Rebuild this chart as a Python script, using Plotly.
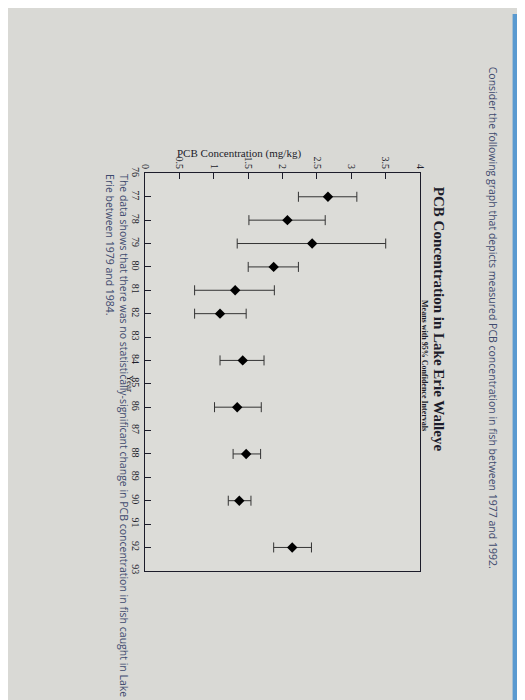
import plotly.graph_objects as go

years = [77, 78, 79, 80, 81, 82, 84, 86, 88, 90, 92]
means = [2.66, 2.07, 2.43, 1.87, 1.31, 1.09, 1.42, 1.34, 1.47, 1.37, 2.14]
lower = [2.23, 1.51, 1.34, 1.50, 0.72, 0.72, 1.09, 1.01, 1.28, 1.21, 1.87]
upper = [3.08, 2.62, 3.50, 2.23, 1.88, 1.47, 1.73, 1.69, 1.68, 1.54, 2.42]

x_ticks = [0, 0.5, 1, 1.5, 2, 2.5, 3, 3.5, 4]
x_labels = ["0", "0.5", "1", "1.5", "2", "2.5", "3", "3.5", "4"]
year_ticks = list(range(76, 94))

plus = [u - m for u, m in zip(upper, means)]
minus = [m - l for m, l in zip(means, lower)]

serif = "Liberation Serif"
ink = "#1c1c2a"

fig = go.Figure()
fig.add_trace(go.Scatter(
    x=means, y=years, mode="markers",
    marker=dict(symbol="diamond", size=8, color="black"),
    error_x=dict(type="data", symmetric=False, array=plus, arrayminus=minus,
                 color="#333", thickness=1, width=5),
    showlegend=False,
))

fig.update_layout(
    width=525, height=700,
    margin=dict(l=0, r=0, t=0, b=0),
    paper_bgcolor="#d9d9d5", plot_bgcolor="#dcdcd8",
    xaxis=dict(domain=[0.257, 0.792], range=[0, 4], side="top",
               tickvals=x_ticks, ticktext=x_labels, tickangle=90,
               ticks="inside", ticklen=6, tickcolor=ink,
               showline=True, linecolor=ink, mirror=True, showgrid=False,
               zeroline=False, tickfont=dict(family=serif, size=10, color=ink)),
    yaxis=dict(domain=[0.193, 0.769], range=[93, 76],
               tickvals=year_ticks, tickangle=90,
               ticks="inside", ticklen=6, tickcolor=ink,
               showline=True, linecolor=ink, mirror=True, showgrid=False,
               zeroline=False, tickfont=dict(family=serif, size=10, color=ink)),
)

fig.add_shape(type="rect", xref="paper", yref="paper", x0=0.972, x1=1, y0=0, y1=1,
              fillcolor="#5a9ad0", line_width=0)

fig.add_annotation(x=0.952, y=0.926, xref="paper", yref="paper", yanchor="top",
                   text="Consider the following graph that depicts measured PCB concentration in fish between 1977 and 1992.",
                   textangle=90, showarrow=False,
                   font=dict(family="Open Sans", size=10.5, color="#3e4a6e"))
fig.add_annotation(x=0.848, y=0.557, xref="paper", yref="paper",
                   text="<b>PCB Concentration in Lake Erie Walleye</b>",
                   textangle=90, showarrow=False,
                   font=dict(family=serif, size=15, color=ink))
fig.add_annotation(x=0.812, y=0.49, xref="paper", yref="paper",
                   text="<b>Means with 95% Confidence Intervals</b>",
                   textangle=90, showarrow=False,
                   font=dict(family=serif, size=8, color=ink))
fig.add_annotation(x=0.44, y=0.81, xref="paper", yref="paper",
                   text="PCB Concentration (mg/kg)", showarrow=False,
                   font=dict(family=serif, size=11, color=ink))
fig.add_annotation(x=0.215, y=0.464, xref="paper", yref="paper",
                   text="Year", textangle=90, showarrow=False,
                   font=dict(family=serif, size=9, color=ink))
fig.add_annotation(x=0.172, y=0.771, xref="paper", yref="paper", yanchor="top",
                   text="The data shows that there was no statistically-significant change in PCB concentration in fish caught in Lake<br>Erie between 1979 and 1984.",
                   textangle=90, showarrow=False, align="left",
                   font=dict(family="Open Sans", size=10.5, color="#3e4a6e"))

fig.write_html("out.html")
